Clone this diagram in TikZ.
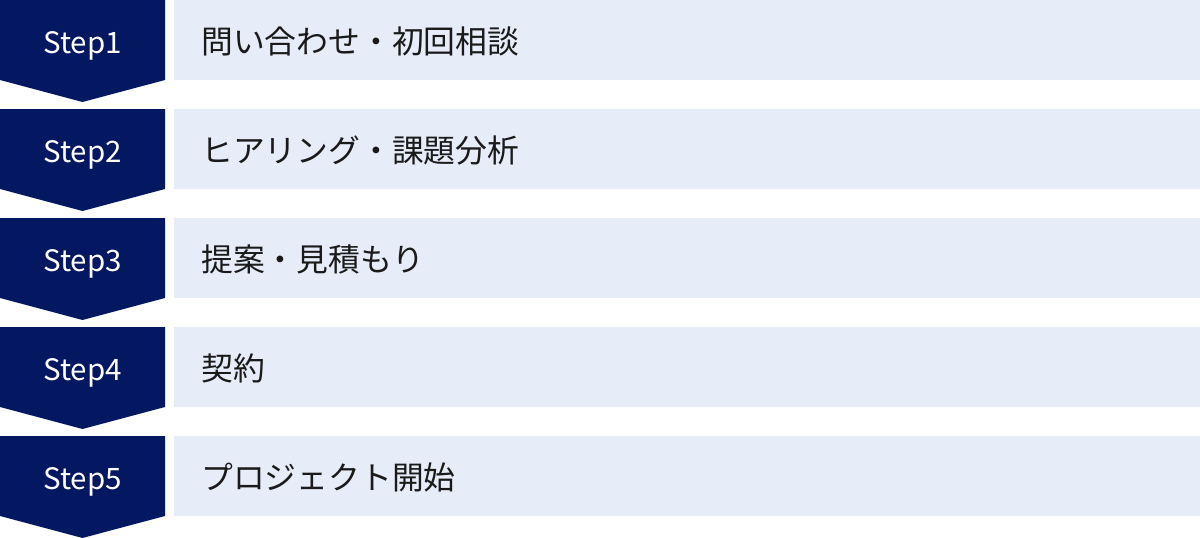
\documentclass[tikz,border=0pt]{standalone}
\usepackage{fontspec}
\setmainfont{Noto Sans CJK JP}
\newfontfamily\jpfont{Noto Sans CJK JP}
\definecolor{navy}{HTML}{041862}
\definecolor{pale}{HTML}{E6ECF8}
\definecolor{ink}{HTML}{1A1A1A}
\tikzset{
  stepshape/.style={fill=navy,draw=none},
  steplabel/.style={text=white,font=\jpfont\fontsize{29.5}{30}\selectfont,anchor=base,inner sep=0pt},
  bar/.style={fill=pale,draw=none,minimum width=1026pt,minimum height=80pt,anchor=north west,inner sep=0pt},
  bartext/.style={text=ink,font=\jpfont\fontsize{31.8}{32}\selectfont,anchor=base west,inner sep=0pt}
}
\begin{document}
\begin{tikzpicture}[x=1pt,y=-1pt]
\useasboundingbox (0,0) rectangle (1200,538);
\foreach \i/\t in {1/問い合わせ・初回相談,2/ヒアリング・課題分析,3/提案・見積もり,4/契約,5/プロジェクト開始}{
  \pgfmathsetmacro{\top}{(\i-1)*109}
  \fill[stepshape] (0,\top) -- (165,\top) -- (165,\top+80) -- (82.5,\top+102) -- (0,\top+80) -- cycle;
  \node[steplabel] (s\i) at (82.5,\top+53) {Step\i};
  \node[bar] (b\i) at (174,\top) {};
  \node[bartext] (t\i) at (201,\top+53) {\t};
}
\end{tikzpicture}
\end{document}
